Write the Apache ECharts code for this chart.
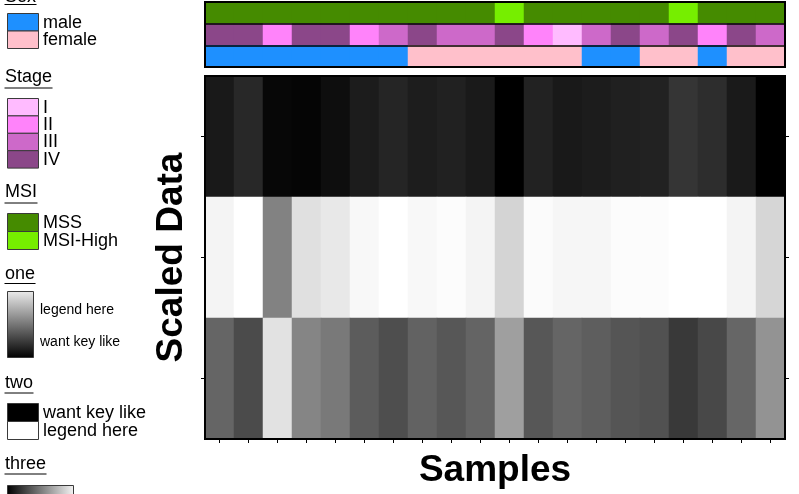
<!DOCTYPE html>
<html><head><meta charset="utf-8">
<script src="https://cdn.jsdelivr.net/npm/echarts@6/dist/echarts.min.js"></script>
<style>html,body{margin:0;padding:0;background:#fff}#c{width:799px;height:494px}</style>
</head><body><div id="c"></div>
<script>
// ---------------- data ----------------
const samples = ['S01','S02','S03','S04','S05','S06','S07','S08','S09','S10',
                 'S11','S12','S13','S14','S15','S16','S17','S18','S19','S20'];
const rowNames = ['one','two','three'];
// grey level of each cell (0 = black, 255 = white)
const rowOne   = [25,40,7,5,14,28,37,29,33,26,0,34,25,28,32,34,53,45,26,0];
const rowTwo   = [244,255,130,224,232,248,255,248,252,244,212,251,246,246,252,252,255,255,244,214];
const rowThree = [101,75,226,133,121,92,78,98,87,100,159,87,101,94,85,81,57,72,102,147];

const annotRows = ['MSI','Stage','Sex'];
const msi   = ['MSS','MSS','MSS','MSS','MSS','MSS','MSS','MSS','MSS','MSS',
               'MSI-High','MSS','MSS','MSS','MSS','MSS','MSI-High','MSS','MSS','MSS'];
const stage = ['IV','IV','II','IV','IV','II','III','IV','III','III',
               'IV','II','I','III','IV','III','IV','II','IV','III'];
const sex   = ['male','male','male','male','male','male','male','female','female','female',
               'female','female','female','male','male','female','female','male','female','female'];

const sexLevels = ['male','female'];
const sexColors = ['#1E90FF','#FFC0CB'];
const stageLevels = ['I','II','III','IV'];
const stageColors = ['#FFBBFF','#FF83FA','#CD69C9','#8B4789'];
const msiLevels = ['MSS','MSI-High'];
const msiColors = ['#458B00','#76EE00'];
const oneKeyLabels = ['legend here','want key like'];
const twoKeyLabels = ['want key like','legend here'];
const twoKeyColors = ['#000000','#ffffff'];

// ---------------- build ----------------
const FONT = '"Liberation Sans", Arial, Helvetica, sans-serif';
const mainRows = [rowOne, rowTwo, rowThree];
const mainData = [];
mainRows.forEach((row, r) => row.forEach((v, i) => mainData.push([i, r, v])));

const annotData = [];
const annotSpec = [[msi, msiLevels, msiColors],[stage, stageLevels, stageColors],[sex, sexLevels, sexColors]];
annotSpec.forEach(([vals, levels, colors], r) => {
  vals.forEach((v, i) => {
    const k = levels.indexOf(v);
    annotData.push({value:[i, r, k], itemStyle:{color: colors[k]}});
  });
});

const mctx = document.createElement('canvas').getContext('2d');
function tw(t, size){ mctx.font = size + 'px ' + FONT; return mctx.measureText(t).width; }
function txt(t, x, y, size){
  return {type:'text', x:x, y:y, silent:true, z:10,
    style:{text:t, fontSize:size, fontFamily:FONT, fill:'#000', align:'left', verticalAlign:'middle'}};
}
function title(t, mid, ul){
  return [txt(t, 5, mid, 18),
    {type:'line', silent:true, z:10, shape:{x1:4.5, y1:ul, x2:5.5 + tw(t,18), y2:ul}, style:{stroke:'#000', lineWidth:1}}];
}
function boxes(labels, colors, top, h){
  const els = [];
  labels.forEach((l, k) => {
    els.push({type:'rect', silent:true, z:10, shape:{x:7.5, y:top + k*h, width:31, height:h},
      style:{fill:colors[k], stroke:'#3a3a3a', lineWidth:1}});
    els.push(txt(l, 43, top + k*h + h/2 + 0.5, 18));
  });
  return els;
}
const graphics = [].concat(
  title('Sex', -3, 4.5), boxes(sexLevels, sexColors, 13.5, 17.5),
  title('Stage', 77.5, 88), boxes(stageLevels, stageColors, 98.5, 17.4),
  title('MSI', 192.5, 203), boxes(msiLevels, msiColors, 213.5, 18),
  title('one', 274.5, 283.5),
  [{type:'rect', silent:true, z:10, shape:{x:7.5, y:291.5, width:26, height:66},
    style:{fill:new echarts.graphic.LinearGradient(0,0,0,1,[{offset:0,color:'#ececec'},{offset:1,color:'#000000'}]),
           stroke:'#3a3a3a', lineWidth:1}},
   txt(oneKeyLabels[0], 40, 310, 14), txt(oneKeyLabels[1], 40, 342, 14)],
  title('two', 383.5, 393), boxes(twoKeyLabels, twoKeyColors, 403.5, 18),
  title('three', 464.5, 474),
  [{type:'rect', silent:true, z:10, shape:{x:7.5, y:485.5, width:66, height:20},
    style:{fill:new echarts.graphic.LinearGradient(0,0,1,0,[{offset:0,color:'#000000'},{offset:1,color:'#f4f4f4'}]),
           stroke:'#3a3a3a', lineWidth:1}}]
);

const tick = {show:true, alignWithLabel:true, length:4, lineStyle:{color:'#000', width:1}};
const nameStyle = {fontSize:37, fontWeight:'bold', fontFamily:FONT, color:'#000'};

const option = {
  animation:false,
  backgroundColor:'#fff',
  grid:[
    {left:205, top:2, width:580, height:65, show:true, borderColor:'#000', borderWidth:2, z:5},
    {left:205, top:76, width:580, height:366, show:true, borderColor:'#000', borderWidth:2, z:5}
  ],
  xAxis:[
    {gridIndex:0, type:'category', data:samples, axisLine:{show:false}, axisTick:{show:false}, axisLabel:{show:false}, splitLine:{show:false}},
    {gridIndex:1, type:'category', data:samples, position:'bottom', axisLine:{show:false}, axisTick:tick,
     axisLabel:{show:false}, splitLine:{show:false},
     name:'Samples', nameLocation:'middle', nameGap:13, nameTextStyle:nameStyle}
  ],
  yAxis:[
    {gridIndex:0, type:'category', data:annotRows, inverse:true, axisLine:{show:false}, axisTick:{show:false},
     axisLabel:{show:false}, splitLine:{show:true, lineStyle:{color:'#000', width:1.5}}, z:6},
    {gridIndex:1, type:'category', data:rowNames, inverse:true, position:'left', axisLine:{show:false}, axisTick:tick,
     axisLabel:{show:false}, splitLine:{show:false},
     name:'Scaled Data', nameLocation:'middle', nameRotate:90, nameGap:15, nameTextStyle:nameStyle},
    {gridIndex:1, type:'category', data:rowNames, inverse:true, position:'right', axisLine:{show:false}, axisTick:tick,
     axisLabel:{show:false}, splitLine:{show:false}}
  ],
  visualMap:[{type:'continuous', seriesIndex:1, min:0, max:255, show:false, inRange:{color:['#000000','#ffffff']}}],
  series:[
    {type:'heatmap', xAxisIndex:0, yAxisIndex:0, data:annotData, itemStyle:{borderWidth:0}, emphasis:{disabled:true}},
    {type:'heatmap', xAxisIndex:1, yAxisIndex:1, data:mainData, itemStyle:{borderWidth:0}, emphasis:{disabled:true}}
  ],
  graphic:graphics
};
const chart = echarts.init(document.getElementById('c'), null, {renderer:'canvas'});
chart.setOption(option);
</script>
</body></html>
